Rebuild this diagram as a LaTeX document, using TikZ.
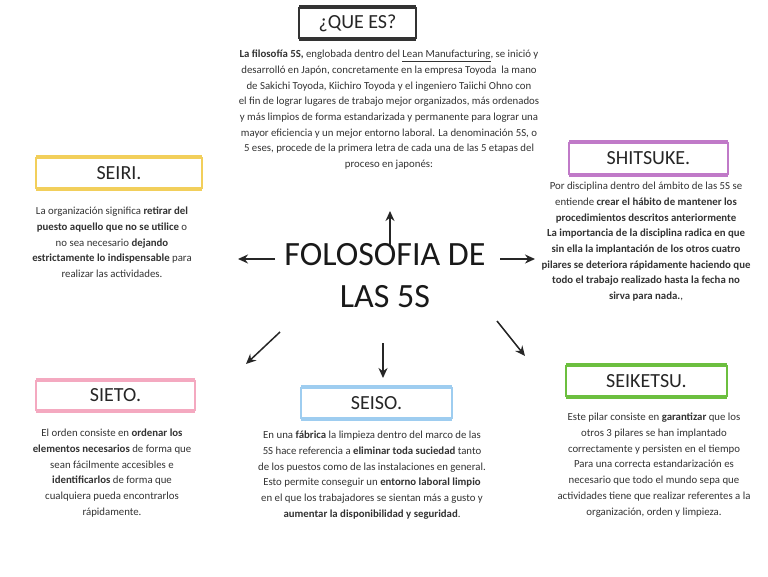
\documentclass[tikz,border=0pt]{standalone}
\usepackage{fontspec}
\setmainfont{Carlito}
\usetikzlibrary{arrows.meta}
\definecolor{cque}{HTML}{333333}
\definecolor{cseiri}{HTML}{F2CF5B}
\definecolor{cshit}{HTML}{C07AC8}
\definecolor{csieto}{HTML}{F4A9C0}
\definecolor{cseiso}{HTML}{9ECDF0}
\definecolor{cseik}{HTML}{6CBF3F}
\tikzset{
  body/.style={align=center,font=\fontsize{10.8}{15.7}\selectfont,text=black!80,inner sep=0pt},
  ttl/.style={font=\fontsize{20}{22}\selectfont,text=black!85},
  arr/.style={-{Stealth[length=10pt,width=9pt]},line width=1.5pt,black!85}
}
\newcommand{\tbox}[6]{% name,color,x1,y1,x2,y2
  \draw[#2,line width=3.5pt] (#3,#4) -- (#5,#4);
  \draw[#2,line width=3.5pt] (#3,#6) -- (#5,#6);
  \draw[#2,line width=1.5pt] (#3,#4) -- (#3,#6);
  \draw[#2,line width=1.5pt] (#5,#4) -- (#5,#6);
  \coordinate (#1) at ({(#3+#5)/2},{(#4+#6)/2});
}
\begin{document}
\begin{tikzpicture}[x=1pt,y=-1pt]
\useasboundingbox (0,0) rectangle (768,576);
\fill[white] (0,0) rectangle (768,576);
% title boxes
\tbox{bque}{cque}{299}{7}{416}{39}
\node[ttl] at (bque) {¿QUE ES?};
\tbox{bseiri}{cseiri}{36}{157}{202}{189}
\node[ttl] at (bseiri) {SEIRI.};
\tbox{bshit}{cshit}{569}{142}{728}{175}
\node[ttl] at (bshit) {SHITSUKE.};
\tbox{bsieto}{csieto}{36}{380}{195}{411}
\node[ttl] at (bsieto) {SIETO.};
\tbox{bseiso}{cseiso}{301}{387}{452}{419}
\node[ttl] at (bseiso) {SEISO.};
\tbox{bseik}{cseik}{566}{365}{727}{397}
\node[ttl] at (bseik) {SEIKETSU.};
% bodies
\node[body,anchor=north] (tque) at (389,50) {\textbf{La filosofía 5S,} englobada dentro del \underline{Lean Manufacturing}, se inició y\\
desarrolló en Japón, concretamente en la empresa Toyoda\ \ la mano\\
de Sakichi Toyoda, Kiichiro Toyoda y el ingeniero Taiichi Ohno con\\
el fin de lograr lugares de trabajo mejor organizados, más ordenados\\
y más limpios de forma estandarizada y permanente para lograr una\\
mayor eficiencia y un mejor entorno laboral. La denominación 5S, o\\
5 eses, procede de la primera letra de cada una de las 5 etapas del\\
proceso en japonés:};
\node[body,anchor=north] (tseiri) at (112,207) {La organización significa \textbf{retirar del}\\
\textbf{puesto aquello que no se utilice} o\\
no sea necesario \textbf{dejando}\\
\textbf{estrictamente lo indispensable} para\\
realizar las actividades.};
\node[body,anchor=north] (tshit) at (646,182) {Por disciplina dentro del ámbito de las 5S se\\
entiende \textbf{crear el hábito de mantener los}\\
\textbf{procedimientos descritos anteriormente}\\
\textbf{La importancia de la disciplina radica en que}\\
\textbf{sin ella la implantación de los otros cuatro}\\
\textbf{pilares se deteriora rápidamente haciendo que}\\
\textbf{todo el trabajo realizado hasta la fecha no}\\
\textbf{sirva para nada.},};
\node[body,anchor=north] (tsieto) at (112,429) {El orden consiste en \textbf{ordenar los}\\
\textbf{elementos necesarios} de forma que\\
sean fácilmente accesibles e\\
\textbf{identificarlos} de forma que\\
cualquiera pueda encontrarlos\\
rápidamente.};
\node[body,anchor=north] (tseiso) at (372,431) {En una \textbf{fábrica} la limpieza dentro del marco de las\\
5S hace referencia a \textbf{eliminar toda suciedad} tanto\\
de los puestos como de las instalaciones en general.\\
Esto permite conseguir un \textbf{entorno laboral limpio}\\
en el que los trabajadores se sientan más a gusto y\\
\textbf{aumentar la disponibilidad y seguridad}.};
\node[body,anchor=north] (tseik) at (654,413) {Este pilar consiste en \textbf{garantizar} que los\\
otros 3 pilares se han implantado\\
correctamente y persisten en el tiempo\\
Para una correcta estandarización es\\
necesario que todo el mundo sepa que\\
actividades tiene que realizar referentes a la\\
organización, orden y limpieza.};
% center
\node[align=center,font=\fontsize{34}{42}\selectfont,text=black!90] (center) at (385,276) {FOLOSOFIA DE\\LAS 5S};
% arrows
\coordinate (a1s) at (390,245); \coordinate (a1e) at (390,211);
\coordinate (a2s) at (275,259); \coordinate (a2e) at (238,259);
\coordinate (a3s) at (500,259); \coordinate (a3e) at (535,259);
\coordinate (a4s) at (280,332); \coordinate (a4e) at (246,364);
\coordinate (a5s) at (383,343); \coordinate (a5e) at (383,378);
\coordinate (a6s) at (497,321); \coordinate (a6e) at (525,356);
\foreach \i in {1,...,6} \draw[arr] (a\i s) -- (a\i e);
\end{tikzpicture}
\end{document}
